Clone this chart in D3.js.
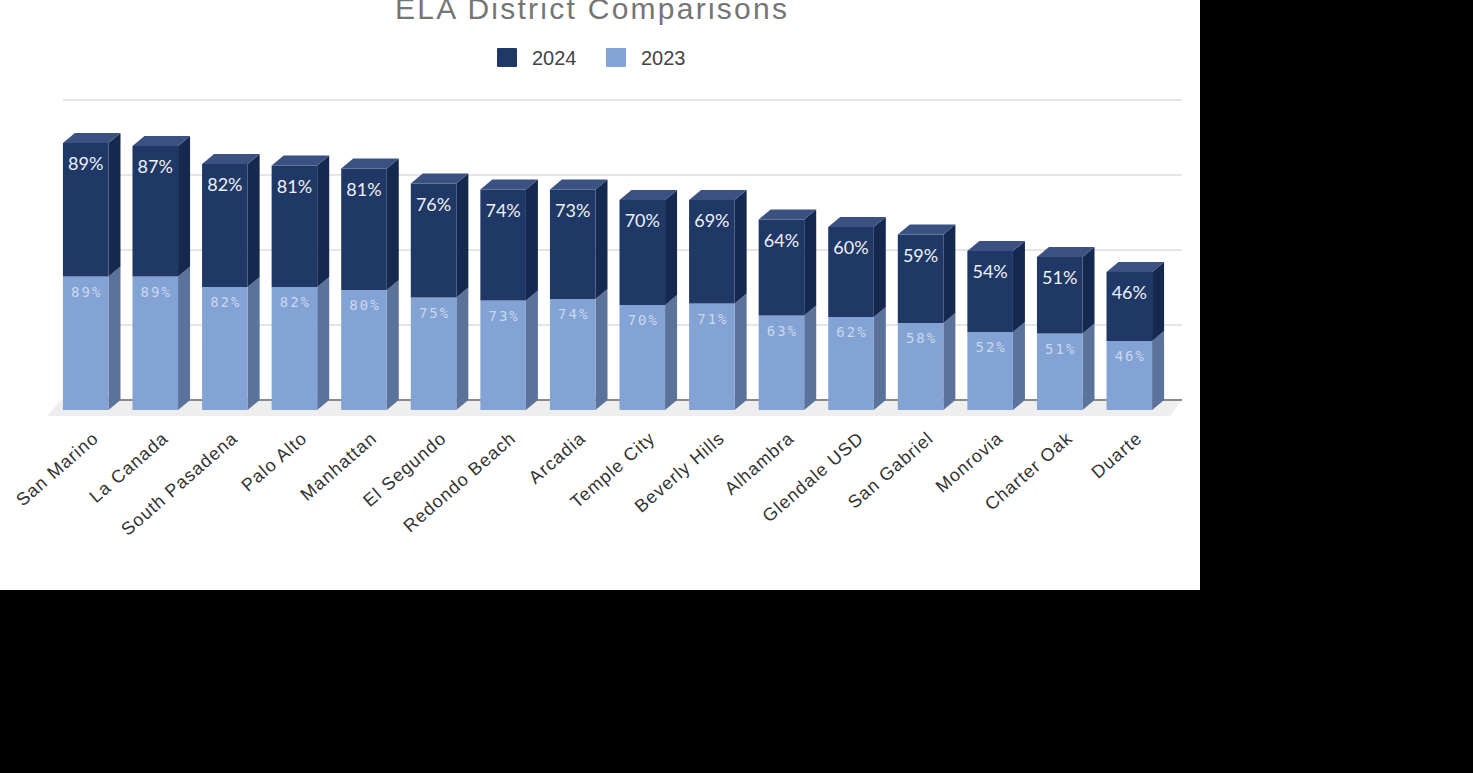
<!DOCTYPE html>
<html>
<head>
<meta charset="utf-8">
<script src="https://cdn.jsdelivr.net/npm/d3@7"></script>
<style>
  body { margin: 0; background: #000; }
  svg { display: block; }
</style>
</head>
<body>
<div id="chart"></div>
<script>
var districts = ["San Marino", "La Canada", "South Pasadena", "Palo Alto", "Manhattan", "El Segundo",
  "Redondo Beach", "Arcadia", "Temple City", "Beverly Hills", "Alhambra", "Glendale USD",
  "San Gabriel", "Monrovia", "Charter Oak", "Duarte"];
var scores2023 = [89, 89, 82, 82, 80, 75, 73, 74, 70, 71, 63, 62, 58, 52, 51, 46];
var scores2024 = [89, 87, 82, 81, 81, 76, 74, 73, 70, 69, 64, 60, 59, 54, 51, 46];
var seriesNames = ["2024", "2023"];
var gridTicks = [0, 50, 100, 150, 200];

function drawChart() {
  var width = 1200, height = 590;
  var depthX = 12, depthY = -10;   // 3d offset of the back plane

  var svg = d3.select("#chart").append("svg")
    .attr("width", 1473)
    .attr("height", 773);

  svg.append("rect")
    .attr("width", width)
    .attr("height", height)
    .attr("fill", "#fff");

  var x = d3.scaleBand()
    .domain(districts)
    .range([49, 1166])
    .paddingInner(0.345)
    .paddingOuter(0.2);

  var y = d3.scaleLinear()
    .domain([0, 200])
    .range([410, 110]);

  var colors = {
    "2024": { front: "#1f3866", side: "#15294f", top: "#3b5182" },
    "2023": { front: "#84a3d5", side: "#5b729b", top: "#a3bce3" }
  };

  // title (cut off by the top edge, like the source)
  svg.append("text")
    .attr("x", 591)
    .attr("y", 19)
    .attr("text-anchor", "middle")
    .attr("textLength", 392)
    .attr("lengthAdjust", "spacing")
    .style("font-family", "Liberation Sans, Arial, sans-serif")
    .style("font-size", "30px")
    .style("fill", "#757575")
    .text("ELA District Comparisons");

  // legend
  var legendX = [497, 606];
  var legend = svg.append("g").attr("id", "legend");
  seriesNames.forEach(function(s, i) {
    legend.append("rect")
      .attr("x", legendX[i])
      .attr("y", 48)
      .attr("width", 20)
      .attr("height", 19)
      .attr("rx", 1)
      .attr("fill", colors[s].front);
    legend.append("text")
      .attr("x", legendX[i] + 35)
      .attr("y", 65)
      .style("font-family", "Liberation Sans, Arial, sans-serif")
      .style("font-size", "20px")
      .style("fill", "#444")
      .text(s);
  });

  // floor
  var x0 = x.range()[0], x1 = x.range()[1];
  svg.append("path")
    .attr("d", "M" + (x0 + depthX) + "," + (y(0) + depthY) +
      "L" + (x1 + depthX + 4) + "," + (y(0) + depthY) +
      "L" + (x1 + 4) + "," + (y(0) + 6) +
      "L" + (x0 - 2) + "," + (y(0) + 6) + "Z")
    .attr("fill", "#eeeeee");

  // back wall grid
  svg.append("g")
    .attr("id", "grid")
    .selectAll("line")
    .data(gridTicks)
    .enter()
    .append("line")
    .attr("x1", x0 + depthX + 2)
    .attr("x2", x1 + depthX + 4)
    .attr("y1", d => y(d) + depthY)
    .attr("y2", d => y(d) + depthY)
    .style("stroke", d => d == 0 ? "#8a8a8a" : "#dcdcdc")
    .style("stroke-width", d => d == 0 ? "2px" : "1.5px");

  // bars
  var bw = x.bandwidth();
  var bars = svg.append("g").attr("id", "bars")
    .selectAll("g")
    .data(districts)
    .enter()
    .append("g");

  bars.each(function(d, i) {
    var g = d3.select(this);
    var left = x(d), right = x(d) + bw;
    var segs = [
      { s: "2023", lo: 0, hi: scores2023[i], v: scores2023[i] },
      { s: "2024", lo: scores2023[i], hi: scores2023[i] + scores2024[i], v: scores2024[i] }
    ];
    segs.forEach(function(seg, k) {
      var yb = y(seg.lo), yt = y(seg.hi);
      // side
      g.append("path")
        .attr("d", "M" + right + "," + yt + "L" + (right + depthX) + "," + (yt + depthY) +
          "L" + (right + depthX) + "," + (yb + depthY) + "L" + right + "," + yb + "Z")
        .attr("fill", colors[seg.s].side);
      // front
      g.append("rect")
        .attr("x", left)
        .attr("y", yt)
        .attr("width", bw)
        .attr("height", yb - yt)
        .attr("fill", colors[seg.s].front);
      if (k == 1) {
        // top
        g.append("path")
          .attr("d", "M" + left + "," + yt + "L" + right + "," + yt +
            "L" + (right + depthX) + "," + (yt + depthY) + "L" + (left + depthX) + "," + (yt + depthY) + "Z")
          .attr("fill", colors[seg.s].top);
        g.append("text")
          .attr("x", left + bw / 2)
          .attr("y", yt + 27)
          .attr("text-anchor", "middle")
          .style("font-family", "Lato, Open Sans, sans-serif")
          .style("font-size", "18px")
          .style("fill", "#eef1f7")
          .text(seg.v + "%");
      } else {
        g.append("text")
          .attr("x", left + bw / 2 + 1)
          .attr("y", yt + 20)
          .attr("text-anchor", "middle")
          .style("font-family", "DejaVu Sans Mono, monospace")
          .style("font-size", "14px")
          .style("letter-spacing", "2px")
          .style("fill", "#cad7ef")
          .text(seg.v + "%");
      }
    });
  });

  // category labels
  svg.append("g")
    .attr("id", "labels")
    .selectAll("text")
    .data(districts)
    .enter()
    .append("text")
    .attr("transform", d => "translate(" + (x(d) + bw / 2 + 14) + ",440) rotate(-41)")
    .attr("text-anchor", "end")
    .style("font-family", "Liberation Sans, Arial, sans-serif")
    .style("font-size", "18px")
    .style("letter-spacing", "1px")
    .style("fill", "#333")
    .text(d => d);
}

drawChart();
</script>
</body>
</html>
